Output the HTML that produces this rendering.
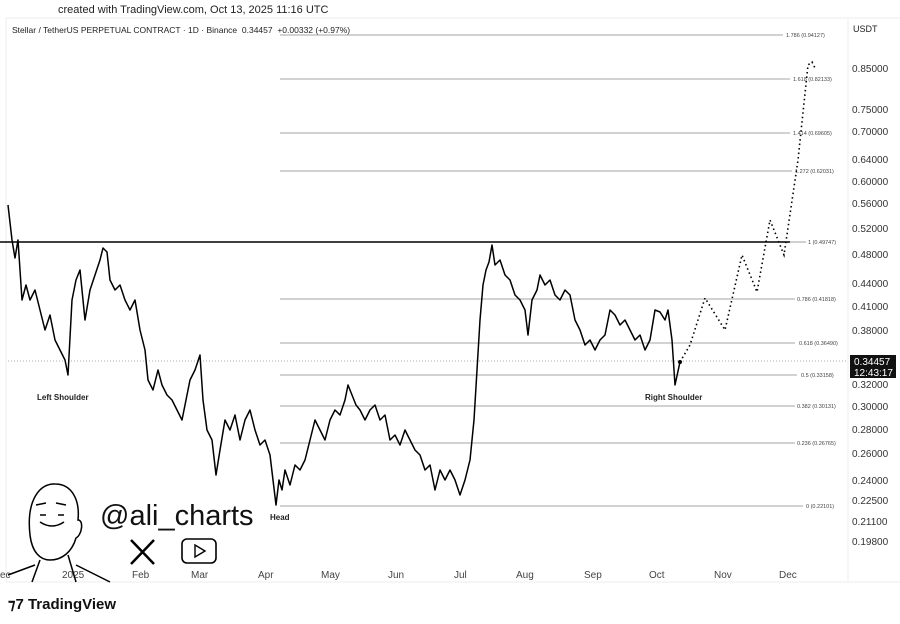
<!DOCTYPE html>
<html><head><style>
body{margin:0;background:#fff;width:900px;height:624px;overflow:hidden;font-family:"Liberation Sans",sans-serif;position:relative}
.t{position:absolute;white-space:nowrap}
</style></head><body>
<div class="t" style="left:58px;top:4px;font-size:11px;color:#222">created with TradingView.com, Oct 13, 2025 11:16 UTC</div>
<div class="t" style="left:12px;top:25px;font-size:8.5px;color:#222">Stellar / TetherUS PERPETUAL CONTRACT · 1D · Binance&nbsp; 0.34457&nbsp; +0.00332 (+0.97%)</div>
<svg width="900" height="624" style="position:absolute;left:0;top:0" font-family="Liberation Sans,sans-serif">
<line x1="6" y1="18" x2="900" y2="18" stroke="#eee"/>
<line x1="6" y1="18" x2="6" y2="582" stroke="#eee"/>
<line x1="6" y1="582" x2="900" y2="582" stroke="#eee"/>
<line x1="848" y1="18" x2="848" y2="582" stroke="#eee"/>
<text x="853" y="32" font-size="9" fill="#222">USDT</text>
<g stroke="#888" stroke-width="0.8">
<line x1="280" y1="35" x2="783" y2="35"/><line x1="280" y1="79" x2="790" y2="79"/>
<line x1="280" y1="133" x2="790" y2="133"/><line x1="280" y1="171" x2="792" y2="171"/>
<line x1="280" y1="299" x2="795" y2="299"/><line x1="280" y1="343" x2="795" y2="343"/>
<line x1="280" y1="375" x2="797" y2="375"/><line x1="280" y1="406" x2="795" y2="406"/>
<line x1="280" y1="443" x2="795" y2="443"/><line x1="280" y1="506" x2="803" y2="506"/>
<line x1="790" y1="242" x2="806" y2="242"/>
</g>
<line x1="0" y1="242" x2="790" y2="242" stroke="#000" stroke-width="1.4"/>
<line x1="8" y1="361" x2="848" y2="361" stroke="#aaa" stroke-dasharray="1,2"/>
<g font-size="5.5" fill="#444">
<text x="786" y="37">1.786 (0.94127)</text><text x="793" y="81">1.618 (0.82133)</text>
<text x="793" y="135">1.414 (0.69605)</text><text x="795" y="173">1.272 (0.62031)</text>
<text x="808" y="244">1 (0.49747)</text><text x="797" y="301">0.786 (0.41818)</text>
<text x="799" y="345">0.618 (0.36490)</text><text x="801" y="377">0.5 (0.33158)</text>
<text x="797" y="408">0.382 (0.30131)</text><text x="797" y="445">0.236 (0.26765)</text>
<text x="806" y="508">0 (0.22101)</text>
</g>
<g font-size="10" fill="#333">
<text x="852" y="72">0.85000</text><text x="852" y="113">0.75000</text><text x="852" y="135">0.70000</text>
<text x="852" y="163">0.64000</text><text x="852" y="185">0.60000</text><text x="852" y="207">0.56000</text>
<text x="852" y="232">0.52000</text><text x="852" y="258">0.48000</text><text x="852" y="287">0.44000</text>
<text x="852" y="310">0.41000</text><text x="852" y="334">0.38000</text><text x="852" y="388">0.32000</text>
<text x="852" y="410">0.30000</text><text x="852" y="433">0.28000</text><text x="852" y="457">0.26000</text>
<text x="852" y="484">0.24000</text><text x="852" y="504">0.22500</text><text x="852" y="525">0.21100</text>
<text x="852" y="545">0.19800</text>
</g>
<rect x="850" y="355" width="46" height="23" fill="#111"/>
<text x="854" y="365" font-size="10" fill="#fff">0.34457</text>
<text x="854" y="376" font-size="10" fill="#fff">12:43:17</text>
<polyline fill="none" stroke="#000" stroke-width="1.5" stroke-linejoin="round" points="8,205 12,240 15,258 18,240 22,300 26,285 30,300 35,290 40,310 45,330 50,315 55,340 60,350 65,360 68,375 72,300 76,280 80,270 85,320 90,290 95,275 100,260 103,248 107,252 110,280 115,290 120,285 125,300 130,310 135,300 140,330 145,350 148,380 153,390 158,370 162,385 167,395 172,400 177,410 182,420 186,400 190,380 195,370 200,355 203,400 207,430 212,440 216,475 220,450 225,420 230,430 235,415 240,440 245,420 250,410 255,430 260,445 265,440 270,455 273,480 276,505 279,480 282,490 285,470 290,485 295,465 300,470 305,460 310,440 315,420 320,430 325,440 330,420 335,410 340,415 345,400 348,385 352,395 356,405 360,410 365,420 370,410 375,405 380,420 385,415 390,440 395,435 400,445 405,430 410,440 415,450 420,455 425,470 430,465 435,490 440,470 445,480 450,470 455,480 460,495 465,480 470,460 474,420 477,370 480,320 483,285 486,270 489,262 492,245 495,265 500,260 505,275 510,280 515,295 520,300 525,310 528,335 532,300 537,290 540,275 545,285 550,280 555,295 560,300 565,290 570,295 575,320 580,330 585,345 590,340 595,350 600,340 605,335 610,310 615,315 620,325 625,320 630,330 635,340 640,335 645,350 650,340 655,310 660,312 665,320 668,310 672,340 675,385 680,362"/>
<circle cx="680" cy="362" r="2" fill="#000"/>
<polyline fill="none" stroke="#000" stroke-width="1.6" stroke-dasharray="1.5,3" points="680,362 690,345 705,298 725,330 742,255 757,292 770,220 784,255 798,160 808,65 812,62 816,70"/>
<g font-size="8" font-weight="bold" fill="#222">
<text x="37" y="400">Left Shoulder</text><text x="270" y="520">Head</text><text x="645" y="400">Right Shoulder</text>
</g>
<g font-size="10" fill="#444">
<text x="0" y="578">ec</text><text x="62" y="578">2025</text><text x="132" y="578">Feb</text><text x="191" y="578">Mar</text>
<text x="258" y="578">Apr</text><text x="321" y="578">May</text><text x="388" y="578">Jun</text><text x="454" y="578">Jul</text>
<text x="516" y="578">Aug</text><text x="584" y="578">Sep</text><text x="649" y="578">Oct</text><text x="714" y="578">Nov</text><text x="779" y="578">Dec</text>
</g>
<g fill="none" stroke="#000" stroke-width="1.5">
<path d="M30,535 C26,500 40,483 55,484 C72,484 80,500 78,520 C84,520 82,535 76,538 C72,552 62,560 50,560 C40,560 32,552 30,535"/>
<path d="M36,505 l10,-2 M56,503 l10,2 M40,522 q12,8 24,0 M40,515 h6 M58,515 h6"/>
<path d="M40,560 L32,582 M68,555 L76,582 M8,575 L35,565 M76,565 L110,582"/>
</g>
<text x="100" y="525" font-size="29" fill="#111">@ali_charts</text>
<path d="M131,540 L154,564 M154,540 L131,564" stroke="#000" stroke-width="2.5"/>
<rect x="182" y="539" width="34" height="24" rx="5" fill="none" stroke="#000" stroke-width="1.6"/>
<path d="M195,545 L205,551 L195,557 Z" fill="none" stroke="#000" stroke-width="1.4"/>
<text x="8" y="609" font-size="15" font-weight="bold" fill="#111">⁊7 TradingView</text>
</svg>
</body></html>
